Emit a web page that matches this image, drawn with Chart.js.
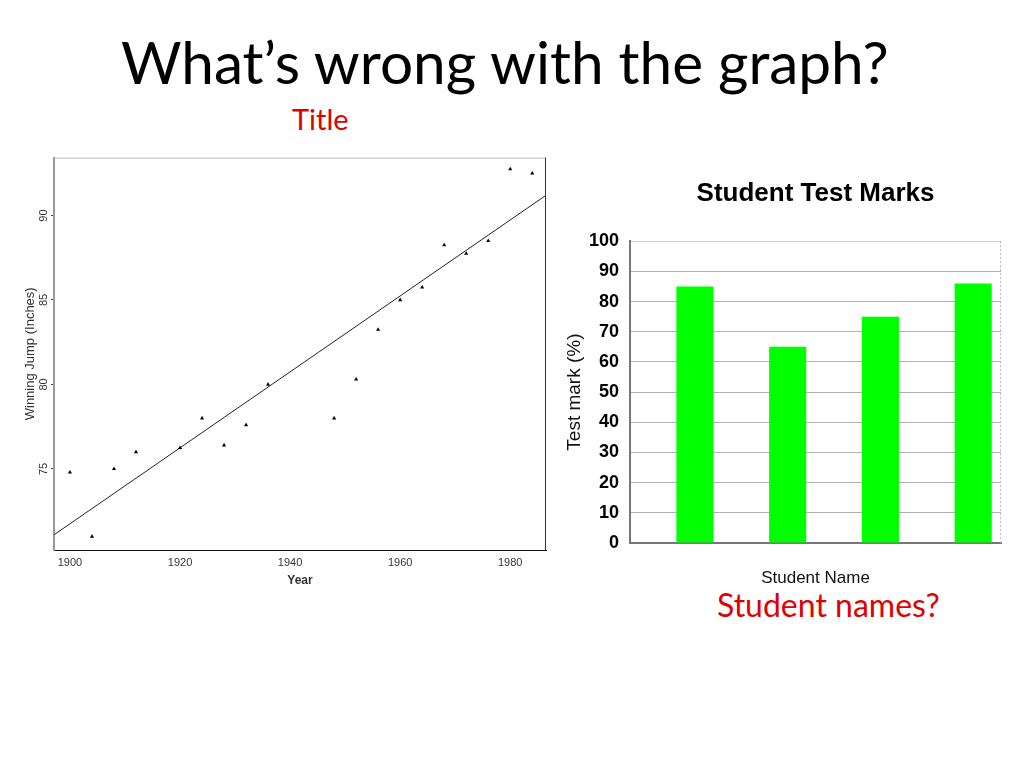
<!DOCTYPE html>
<html>
<head>
<meta charset="utf-8">
<script src="https://cdn.jsdelivr.net/npm/chart.js@4/dist/chart.umd.min.js"></script>
<style>
  body { margin: 0; width: 1024px; height: 768px; background: #fff; position: relative; overflow: hidden; }
  .txt { position: absolute; white-space: nowrap; line-height: 1; font-family: Lato, 'Open Sans', sans-serif; }
  #heading { left: 121px; top: 32px; font-size: 58.5px; color: #000; }
  #note1 { left: 292px; top: 104px; font-size: 29px; color: #e00000; }
  #note2 { left: 717px; top: 589px; font-size: 32px; color: #e00000; }
  #jumpBox { position: absolute; left: 20px; top: 150px; width: 540px; height: 445px; }
  #marksBox { position: absolute; left: 560px; top: 170px; width: 450px; height: 420px; }
</style>
</head>
<body>
<div class="txt" id="heading">What’s wrong with the graph?</div>
<div class="txt" id="note1">Title</div>
<div class="txt" id="note2">Student names?</div>
<div id="jumpBox"><canvas id="jumpChart"></canvas></div>
<div id="marksBox"><canvas id="marksChart"></canvas></div>
<script>
// olympic high jump winners
const jumpYears = [1900, 1904, 1908, 1912, 1920, 1924, 1928, 1932, 1936, 1948, 1952, 1956, 1960, 1964, 1968, 1972, 1976, 1980, 1984]
const jumpInches = [74.8, 71.0, 75.0, 76.0, 76.25, 78.0, 76.4, 77.6, 80.0, 78.0, 80.3, 83.25, 85.0, 85.75, 88.25, 87.75, 88.5, 92.75, 92.5]
// fitted line, ends at the plot edges
const fitYears = [1897.1, 1986.5]
const fitInches = [71.1, 91.2]
const yearTicks = [1900, 1920, 1940, 1960, 1980]
const inchTicks = [75, 80, 85, 90]

// student marks (no names given)
const students = ['', '', '', '']
const marks = [85, 65, 75, 86]
const markTicks = [0, 10, 20, 30, 40, 50, 60, 70, 80, 90, 100]

const sans = "'Liberation Sans', Arial, sans-serif"

// draws the other two sides of the plot frame
const frame = {
  id: 'frame',
  afterDraw(chart, args, opts) {
    const { ctx, chartArea: a } = chart
    ctx.save()
    ctx.lineWidth = 1
    if (opts.top) {
      ctx.strokeStyle = opts.top
      ctx.beginPath(); ctx.moveTo(a.left, a.top + 0.5); ctx.lineTo(a.right, a.top + 0.5); ctx.stroke()
    }
    ctx.strokeStyle = opts.right
    if (opts.dash) ctx.setLineDash(opts.dash)
    ctx.beginPath(); ctx.moveTo(a.right - 0.5, a.top); ctx.lineTo(a.right - 0.5, a.bottom); ctx.stroke()
    ctx.restore()
  }
}

new Chart(document.getElementById('jumpChart'), {
  type: 'scatter',
  data: {
    datasets: [
      {
        data: jumpYears.map((y, i) => ({ x: y, y: jumpInches[i] })),
        pointStyle: 'triangle',
        pointRadius: 2.4,
        backgroundColor: '#000',
        borderColor: '#000',
        borderWidth: 0
      },
      {
        type: 'line',
        data: fitYears.map((y, i) => ({ x: y, y: fitInches[i] })),
        borderColor: '#222',
        borderWidth: 1,
        pointRadius: 0
      }
    ]
  },
  options: {
    responsive: true,
    maintainAspectRatio: false,
    animation: false,
    layout: { padding: { left: 0, top: 5, right: 14, bottom: 0 } },
    plugins: {
      legend: { display: false },
      tooltip: { enabled: false },
      frame: { top: '#bbb', right: '#333' }
    },
    scales: {
      x: {
        type: 'linear',
        min: fitYears[0],
        max: fitYears[1],
        afterBuildTicks: s => { s.ticks = yearTicks.map(v => ({ value: v })) },
        afterFit: s => { s.height = 45 },
        grid: { display: false, drawTicks: false },
        border: { color: '#111', width: 1 },
        ticks: { color: '#333', font: { family: sans, size: 11 }, padding: 6, maxRotation: 0, callback: v => String(v) },
        title: { display: true, text: 'Year', color: '#333', font: { family: sans, size: 12, weight: 'bold' }, padding: { top: 0, bottom: 7 } }
      },
      y: {
        min: 70.2,
        max: 93.43,
        afterBuildTicks: s => { s.ticks = inchTicks.map(v => ({ value: v })) },
        afterFit: s => { s.width = 34 },
        grid: { drawOnChartArea: false, drawTicks: true, tickLength: 3, color: '#444' },
        border: { color: '#999', width: 2 },
        ticks: { color: '#333', font: { family: sans, size: 11 }, minRotation: 90, maxRotation: 90, crossAlign: 'center', padding: 1 },
        title: { display: true, text: 'Winning Jump (Inches)', color: '#333', font: { family: sans, size: 13 }, padding: { top: 3, bottom: 0 } }
      }
    }
  },
  plugins: [frame]
})

new Chart(document.getElementById('marksChart'), {
  type: 'bar',
  data: {
    labels: students,
    datasets: [
      // empty first series, so the green bars sit right of centre like the original
      { data: students.map(() => null), backgroundColor: 'transparent' },
      { data: marks, backgroundColor: '#00ff00', borderWidth: 0 }
    ]
  },
  options: {
    responsive: true,
    maintainAspectRatio: false,
    animation: false,
    categoryPercentage: 0.8,
    barPercentage: 1.0,
    layout: { padding: { left: 0, top: 0, right: 9, bottom: 0 } },
    plugins: {
      legend: { display: false },
      tooltip: { enabled: false },
      title: {
        display: true,
        fullSize: false,
        text: 'Student Test Marks',
        color: '#000',
        font: { family: sans, size: 26, weight: 'bold' },
        padding: { top: 8, bottom: 32 }
      },
      frame: { right: '#bbb', dash: [2, 2] }
    },
    scales: {
      x: {
        afterFit: s => { s.height = 47 },
        grid: { display: false, drawTicks: false },
        border: { color: '#777', width: 2 },
        ticks: { display: false },
        title: { display: true, text: 'Student Name', color: '#111', font: { family: sans, size: 17 }, padding: { top: 0, bottom: 1 } }
      },
      y: {
        min: 0,
        max: 100,
        afterBuildTicks: s => { s.ticks = markTicks.map(v => ({ value: v })) },
        afterFit: s => { s.width = 70 },
        grid: { color: c => c.tick && c.tick.value === 100 ? '#d0d0d0' : '#b0b0b0', lineWidth: 1, drawTicks: false },
        border: { color: '#777', width: 2 },
        ticks: { color: '#000', font: { family: sans, size: 18, weight: 'bold' }, padding: 11 },
        title: { display: true, text: 'Test mark (%)', color: '#111', font: { family: sans, size: 19 }, padding: { top: 3, bottom: 0 } }
      }
    }
  },
  plugins: [frame]
})
</script>
</body>
</html>
